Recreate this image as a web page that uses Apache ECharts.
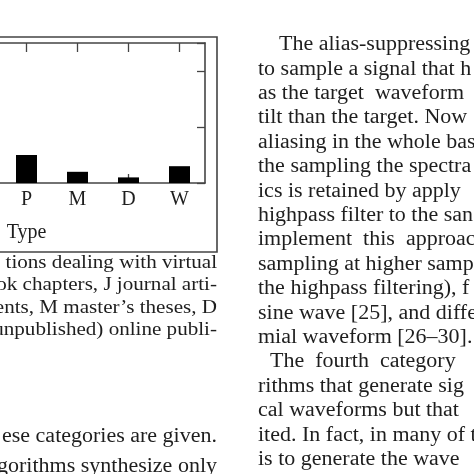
<html>
<head>
    <meta charset="utf-8">
    <title>Publication types</title>
    <script src="https://cdn.jsdelivr.net/npm/echarts@6.0.0/dist/echarts.min.js"></script>
    <style>
        html, body { margin: 0; padding: 0; background: #fff; overflow: hidden; }
        /* the figure is cropped on the left, so the chart starts outside the window */
        #main { position: absolute; left: -200px; top: 0; width: 674px; height: 474px; }
    </style>
</head>
<body>
<div id="main"></div>
<script type="text/javascript">
    // categories of the bar chart (B, J, C are out of the cropped view)
    var categories = ['B', 'J', 'C', 'P', 'M', 'D', 'W'];
    // number of publications, only the visible ones could be read
    var counts = [null, null, null, 10, 4, 2, 6];
    var yTicks = [0, 20, 40];

    // text of the page around the figure
    var captionLines = [
        'tions dealing with virtual',
        'ok chapters, J journal arti-',
        'tents, M master\u2019s theses, D',
        '(unpublished) online publi-'
    ];
    var leftBodyLines = [
        'ese categories are given.',
        'gorithms synthesize only'
    ];
    var rightLines = [
        'The alias-suppressing',
        'to sample a signal that h',
        'as the target  waveform',
        'tilt than the target. Now',
        'aliasing in the whole bas',
        'the sampling the spectra',
        'ics is retained by apply',
        'highpass filter to the san',
        'implement  this  approac',
        'sampling at higher samp',
        'the highpass filtering), f',
        'sine wave [25], and diffe',
        'mial waveform [26\u201330].',
        'The  fourth  category',
        'rithms that generate sig',
        'cal waveforms but that',
        'ited. In fact, in many of t',
        'is to generate the wave'
    ];

    var OFF = 200; // px of the chart hidden left of the window
    var myChart = echarts.init(document.getElementById('main'));
    var serif = '"Liberation Serif", "DejaVu Serif", serif';
    var ink = '#1e1e1e';
    var frame = '#444';

    var graphics = [];
    // outer figure box
    graphics.push({
        type: 'rect', shape: {x: OFF - 30, y: 37, width: 247, height: 215},
        style: {fill: 'none', stroke: frame, lineWidth: 1.6}
    });
    captionLines.forEach(function (t, i) {
        graphics.push({
            type: 'text', x: OFF + 217, y: 263 + i * 22.3, scaleX: 1.11,
            style: {text: t, font: '19px ' + serif, fill: ink, align: 'right', verticalAlign: 'middle'}
        });
    });
    leftBodyLines.forEach(function (t, i) {
        graphics.push({
            type: 'text', x: OFF + 217, y: 437 + i * 30, scaleX: 1.1,
            style: {text: t, font: '20px ' + serif, fill: ink, align: 'right', verticalAlign: 'middle'}
        });
    });
    rightLines.forEach(function (t, i) {
        var x = 258;
        if (i === 0) x = 279;
        if (i === 13) x = 270;
        graphics.push({
            type: 'text', x: OFF + x, y: 45 + i * 24.4, scaleX: 1.1,
            style: {text: t, font: '20px ' + serif, fill: ink, align: 'left', verticalAlign: 'middle'}
        });
    });

    // every axis stays on its own side of the box (no onZero moving)
    function axisLine() {
        return {show: true, onZero: false, lineStyle: {color: frame, width: 1.6}};
    }
    function valTick() {
        return {show: true, inside: true, length: 8, lineStyle: {color: frame, width: 1.3}};
    }
    function catTick() {
        return {show: true, inside: true, length: 9, alignWithLabel: true, interval: 0, lineStyle: {color: frame, width: 1.3}};
    }

    myChart.setOption({
        animation: false,
        grid: {left: OFF - 152, right: 269, top: 43, bottom: 291, containLabel: false},
        xAxis: [{
            type: 'category', position: 'bottom', data: categories,
            name: 'Type', nameLocation: 'middle', nameGap: 40,
            nameTextStyle: {fontFamily: serif, fontSize: 20, color: ink},
            axisLine: axisLine(), axisTick: catTick(),
            axisLabel: {fontFamily: serif, fontSize: 20, color: ink, margin: 7, interval: 0},
            splitLine: {show: false}
        }, {
            // mirrored top axis: ticks only
            type: 'category', position: 'top', data: categories,
            axisLine: axisLine(), axisTick: catTick(),
            axisLabel: {show: true, interval: 0, formatter: function () { return ''; }},
            splitLine: {show: false}
        }],
        yAxis: [{
            type: 'value', position: 'left', min: yTicks[0], max: 50, interval: yTicks[1] - yTicks[0],
            axisLine: axisLine(), axisTick: valTick(),
            axisLabel: {fontFamily: serif, fontSize: 20, color: ink},
            splitLine: {show: false}
        }, {
            type: 'value', position: 'right', min: yTicks[0], max: 50, interval: yTicks[1] - yTicks[0],
            axisLine: axisLine(), axisTick: valTick(),
            axisLabel: {show: false},
            splitLine: {show: false}
        }],
        series: [{
            type: 'bar', data: counts, barWidth: 21,
            itemStyle: {color: '#000'},
            z: 1
        }],
        graphic: graphics
    });
</script>
</body>
</html>
